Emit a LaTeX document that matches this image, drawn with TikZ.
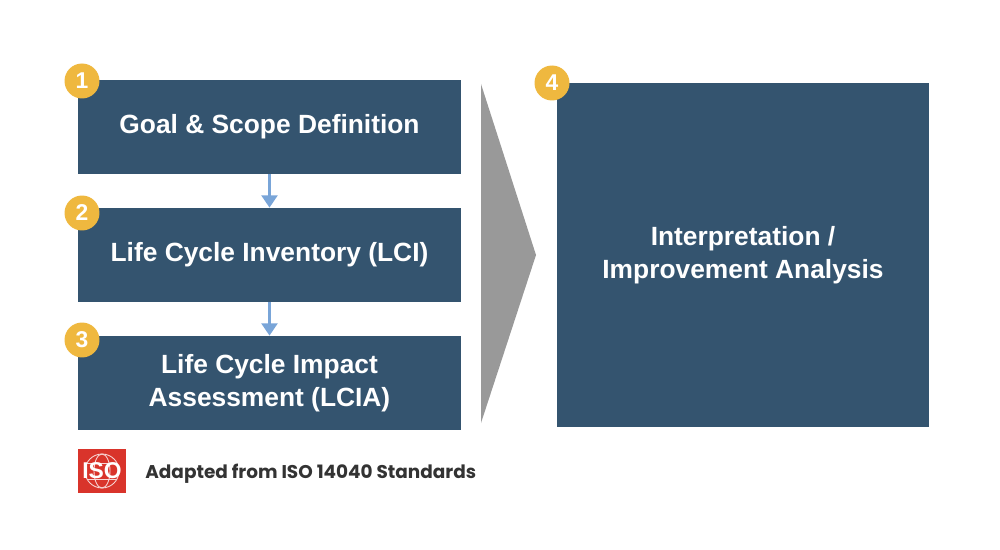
\documentclass[tikz,border=0pt]{standalone}
\usepackage{fontspec}
\setmainfont{Liberation Sans}
\newfontfamily\popp{Poppins}
\usetikzlibrary{arrows.meta}
\definecolor{boxc}{HTML}{34546F}
\definecolor{gold}{HTML}{EFB83F}
\definecolor{arr}{HTML}{79A5D8}
\definecolor{isored}{HTML}{D9342B}
\begin{document}
\begin{tikzpicture}[x=0.02cm,y=-0.02cm,
  box/.style={fill=boxc,draw=none,text=white,font=\bfseries\fontsize{15pt}{19pt}\selectfont,align=center,inner sep=0},
  badge/.style={circle,fill=gold,text=white,font=\bfseries\fontsize{13pt}{13pt}\selectfont,minimum size=0.7cm,inner sep=0},
  flow/.style={arr,line width=1.6pt,-{Triangle[length=7pt,width=9pt]}}]
\useasboundingbox (0,0) rectangle (1000,550);
\node[box,minimum width=7.66cm,minimum height=1.88cm] (b1) at (269.5,127) {Goal \& Scope Definition};
\node[box,minimum width=7.66cm,minimum height=1.88cm] (b2) at (269.5,255) {Life Cycle Inventory (LCI)};
\node[box,minimum width=7.66cm,minimum height=1.88cm] (b3) at (269.5,383) {Life Cycle Impact\\Assessment (LCIA)};
\node[box,minimum width=7.44cm,minimum height=6.88cm] (b4) at (743,255) {Interpretation /\\Improvement Analysis};
\fill[gray!80] (481,84) -- (536,255) -- (481,423) -- cycle;
\draw[flow] (b1.south) -- (b2.north);
\draw[flow] (b2.south) -- (b3.north);
\node[badge] (n1) at (82,81) {1};
\node[badge] (n2) at (82,213) {2};
\node[badge] (n3) at (82,340) {3};
\node[badge] (n4) at (552,83) {4};
\node[fill=isored,minimum width=0.96cm,minimum height=0.9cm,inner sep=0] (iso) at (102,471) {};
\begin{scope}[shift={(iso.center)},white!80!isored,line width=0.5pt]
\draw (0,0) circle (17);
\draw (0,0) ellipse (8 and 17);
\draw (-15,-8) -- (15,-8) (-15,8) -- (15,8);
\end{scope}
\node[text=white,font=\bfseries\fontsize{13pt}{13pt}\selectfont,inner sep=0] at (iso.center) {ISO};
\node[anchor=west,text=black!80,font=\popp\bfseries\fontsize{10.5pt}{12pt}\selectfont,inner sep=0] (cap) at (145,474) {Adapted from ISO 14040 Standards};
\end{tikzpicture}
\end{document}
